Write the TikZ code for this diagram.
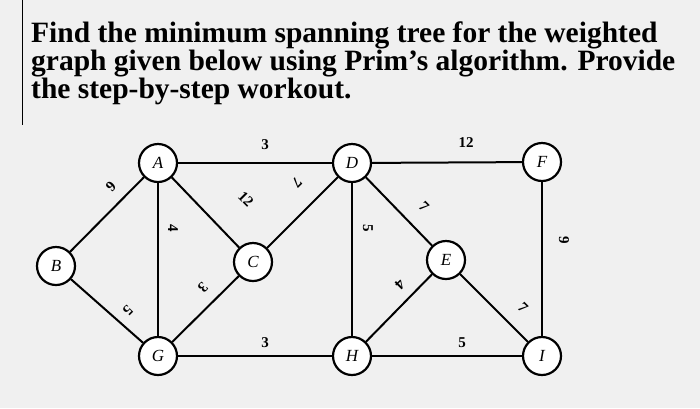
\documentclass[tikz,border=0pt]{standalone}
\usepackage{fontspec}
\setmainfont{Liberation Serif}
\begin{document}
\begin{tikzpicture}[x=1pt,y=-1pt,
 vtx/.style={circle,draw,line width=2.2pt,minimum size=38pt,inner sep=0pt,font=\fontsize{17}{17}\selectfont\itshape,fill=white},
 edg/.style={line width=2pt},
 wt/.style={font=\fontsize{15}{15}\selectfont\bfseries}]
\fill[black!6] (0,0) rectangle (700,408);
\useasboundingbox (0,0) rectangle (700,408);
\draw[line width=1pt] (22,0) -- (22,125);
\node[anchor=north west,align=left,inner sep=0pt,font=\fontsize{29.5}{28}\selectfont\bfseries] (title) at (31,22)
 {Find the minimum spanning tree for the weighted\\graph given below using Prim's algorithm. Provide\\the step-by-step workout.};
\draw[edg] (158,163) -- (352,163);
\node[vtx] (A) at (158,163) {A};
\node[vtx] (D) at (352,163) {D};
\node[vtx] (F) at (542,162) {F};
\node[vtx] (B) at (56,266) {B};
\node[vtx] (C) at (253,262) {C};
\node[vtx] (E) at (446,260) {E};
\node[vtx] (G) at (158,356) {G};
\node[vtx] (H) at (352,356) {H};
\node[vtx] (I) at (542,356) {I};
\draw[edg] (D) -- (F);
\draw[edg] (A) -- (B);
\draw[edg] (A) -- (G);
\draw[edg] (A) -- (C);
\draw[edg] (C) -- (D);
\draw[edg] (C) -- (G);
\draw[edg] (B) -- (G);
\draw[edg] (G) -- (H);
\draw[edg] (D) -- (H);
\draw[edg] (D) -- (E);
\draw[edg] (E) -- (H);
\draw[edg] (E) -- (I);
\draw[edg] (F) -- (I);
\draw[edg] (H) -- (I);
\node[wt] (wAD) at (265,145) {3};
\node[wt] (wDF) at (466,143) {12};
\node[wt,rotate=-135] (wAB) at (111,187) {6};
\node[wt,rotate=-90] (wAG) at (173,228) {4};
\node[wt,rotate=-45] (wAC) at (246,199) {12};
\node[wt,rotate=-135] (wCD) at (297,183) {7};
\node[wt,rotate=-135] (wCG) at (203,288) {3};
\node[wt,rotate=-135] (wBG) at (128,311) {5};
\node[wt] (wGH) at (265,343) {3};
\node[wt,rotate=-90] (wDH) at (368,228) {5};
\node[wt,rotate=-45] (wDE) at (424,207) {7};
\node[wt,rotate=-135] (wEH) at (400,285) {4};
\node[wt,rotate=-45] (wEI) at (523,308) {7};
\node[wt,rotate=-90] (wFI) at (564,240) {9};
\node[wt] (wHI) at (462,343) {5};
\end{tikzpicture}
\end{document}
